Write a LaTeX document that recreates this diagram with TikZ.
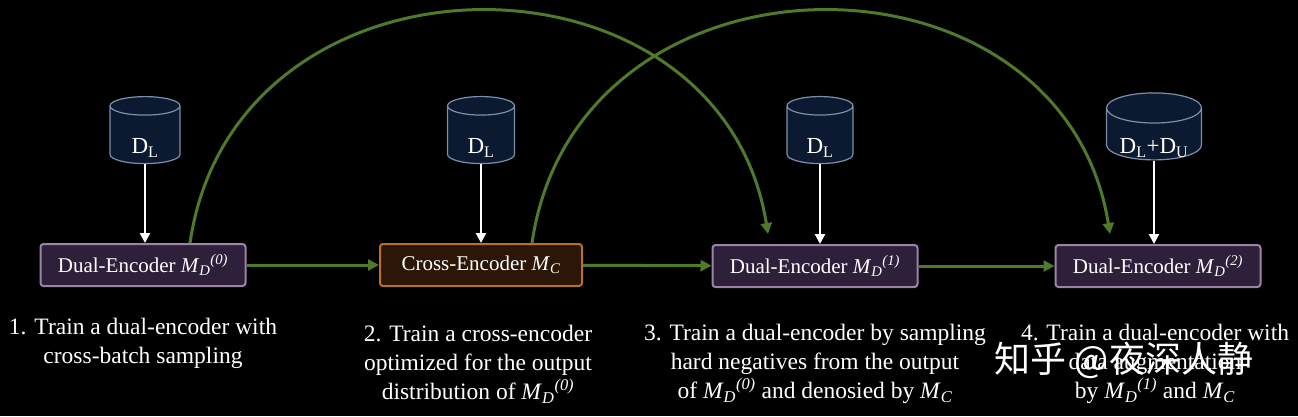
\documentclass[tikz,border=0pt]{standalone}
\usepackage{fontspec}
\setmainfont{Liberation Serif}
\newfontfamily\cjk{Noto Sans CJK SC}
\usetikzlibrary{shapes.geometric,arrows.meta}
\definecolor{gr}{HTML}{4E7A2A}
\definecolor{pfill}{HTML}{2E1F3A}
\definecolor{pdraw}{HTML}{9C84A8}
\definecolor{ofill}{HTML}{2B1608}
\definecolor{odraw}{HTML}{B8702A}
\definecolor{cfill}{HTML}{0B1A30}
\definecolor{cdraw}{HTML}{7B8FA8}
\newcommand{\MD}[1]{\textit{M}\textsubscript{\textit{D}}\textsuperscript{\textit{(#1)}}}
\newcommand{\MC}{\textit{M}\textsubscript{\textit{C}}}
\begin{document}
\begin{tikzpicture}[x=1pt,y=-1pt,
 box/.style={draw=#1,line width=2pt,rounded corners=3pt,minimum height=42pt,font=\fontsize{21}{23}\selectfont,text=white},
 dual/.style={box=pdraw,fill=pfill,minimum width=205pt},
 cyl/.style={cylinder,shape border rotate=90,aspect=0.55,draw=cdraw,fill=cfill,line width=1.2pt,minimum height=67pt,font=\fontsize{23}{25}\selectfont},
 cyltxt/.style={label={[text=white,font=\fontsize{23}{25}\selectfont,yshift=-11pt]center:#1}},
 warr/.style={draw=white,line width=2.2pt,-{Triangle[length=10pt,width=10pt]}},
 garr/.style={draw=gr,line width=3pt,-{Triangle[length=11pt,width=11pt]}},
 captxt/.style={text=white,align=center,font=\fontsize{23.5}{29}\selectfont}]
\useasboundingbox[fill=black] (0,0) rectangle (1298,416);
\node[dual] (b1) at (143,265) {Dual-Encoder \MD{0}};
\node[box=odraw,fill=ofill,minimum width=202pt] (b2) at (481,265) {Cross-Encoder \MC};
\node[dual] (b3) at (815,266) {Dual-Encoder \MD{1}};
\node[dual] (b4) at (1158,266) {Dual-Encoder \MD{2}};
\node[cyl,minimum width=70pt,cyltxt={D\textsubscript{L}}] (c1) at (145,137) {\phantom{D\textsubscript{L}}};
\node[cyl,minimum width=67pt,cyltxt={D\textsubscript{L}}] (c2) at (481,137) {\phantom{D\textsubscript{L}}};
\node[cyl,minimum width=66pt,cyltxt={D\textsubscript{L}}] (c3) at (820,137) {\phantom{D\textsubscript{L}}};
\node[cyl,minimum width=95pt,aspect=0.4,cyltxt={D\textsubscript{L}+D\textsubscript{U}}] (c4) at (1154,137) {\phantom{D\textsubscript{L}+D\textsubscript{U}}};
\foreach \i in {1,2,3,4} \draw[warr] (c\i.bottom) -- (c\i.bottom |- b\i.north);
\draw[garr] (b1) -- (b2);
\draw[garr] (b2) -- (b3);
\draw[garr] (b3) -- (b4);
\coordinate (s1) at (190,243); \coordinate (e1) at (768,234);
\coordinate (s2) at (532,243); \coordinate (e2) at (1110,234);
\draw[garr] (s1) .. controls (235,-65) and (720,-65) .. (e1);
\draw[garr] (s2) .. controls (577,-65) and (1062,-65) .. (e2);
\node[captxt] (t1) at (143,343) {1. Train a dual-encoder with\\cross-batch sampling};
\node[captxt] (t2) at (478,364) {2. Train a cross-encoder\\optimized for the output\\distribution of \MD{0}};
\node[captxt] (t3) at (815,364) {3. Train a dual-encoder by sampling\\hard negatives from the output\\of \MD{0} and denosied by \MC};
\node[captxt] (t4) at (1155,364) {4. Train a dual-encoder with\\data augmentation\\by \MD{1} and \MC};
\node[text=white,font=\cjk\fontsize{36}{38}\selectfont] (wm) at (1124,360) {知乎 @夜深人静};
\end{tikzpicture}
\end{document}
